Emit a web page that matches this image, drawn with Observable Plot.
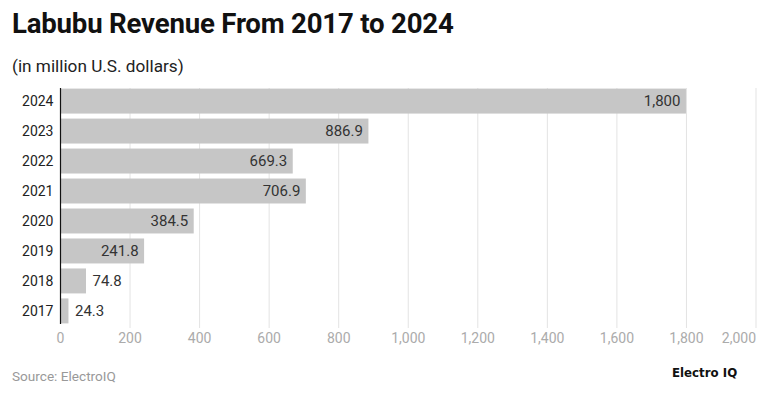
<!DOCTYPE html>
<html><head><meta charset="utf-8">
<script src="https://cdn.jsdelivr.net/npm/d3@7"></script>
<script src="https://cdn.jsdelivr.net/npm/@observablehq/plot@0.6"></script>
<style>
body{margin:0;background:#fff;font-family:Roboto,sans-serif;width:767px;height:398px;position:relative;overflow:hidden}
#title{position:absolute;left:12px;top:7px;font-size:27.6px;font-weight:700;color:#111;letter-spacing:-0.2px;white-space:nowrap}
#sub{position:absolute;left:12px;top:56px;font-size:17.2px;color:#222;white-space:nowrap}
#chart{position:absolute;left:0;top:80px}
#src{position:absolute;left:12px;top:368px;font-size:13.6px;color:#999;white-space:nowrap}
#logo{position:absolute;left:672px;top:366px;font-family:"DejaVu Sans",sans-serif;font-size:11.8px;font-weight:700;color:#111;white-space:nowrap}
</style></head><body>
<div id="title">Labubu Revenue From 2017 to 2024</div>
<div id="sub">(in million U.S. dollars)</div>
<div id="chart"></div>
<div id="src">Source: ElectroIQ</div>
<div id="logo">Electro IQ</div>
<script>
const years = ["2024","2023","2022","2021","2020","2019","2018","2017"];
const revenue = [1800, 886.9, 669.3, 706.9, 384.5, 241.8, 74.8, 24.3];
const xTicks = [0,200,400,600,800,1000,1200,1400,1600,1800,2000];
const data = years.map((y,i)=>({year:y, value:revenue[i]}));
const fmt = v => Number.isInteger(v) ? d3.format(",")(v) : d3.format(",.1f")(v);
const inside = data.filter(d=>d.value>=150);
const outside = data.filter(d=>d.value<150);
const lastTick = xTicks[xTicks.length-1];
const chart = Plot.plot({
  width:767, height:270,
  marginTop:8, marginBottom:26, marginLeft:60, marginRight:11.5,
  style:{fontFamily:"Roboto, sans-serif", fontSize:"14px", background:"#fff"},
  x:{domain:[0,lastTick], label:null},
  y:{domain:years, paddingInner:0.167, paddingOuter:0.02, round:false, label:null},
  marks:[
    Plot.ruleX(xTicks.filter(t=>t>0), {stroke:"#e3e3e3", strokeWidth:1, insetBottom:-4}),
    Plot.axisX({ticks:xTicks.slice(0,-1), tickFormat:d3.format(","), tickSize:0, tickPadding:9, fill:"#ababab", fontSize:14, label:null}),
    Plot.axisX({ticks:[lastTick], tickFormat:d3.format(","), tickSize:0, tickPadding:9, textAnchor:"end", fill:"#ababab", fontSize:14, label:null}),
    Plot.axisY({tickSize:0, tickPadding:7, fill:"#222", fontSize:14, label:null}),
    Plot.barX(data, {x:"value", y:"year", fill:"#c6c6c6"}),
    Plot.ruleX([0], {stroke:"#111", strokeWidth:1.2}),
    Plot.text(inside, {x:"value", y:"year", text:d=>fmt(d.value), textAnchor:"end", dx:-6, fill:"#333", fontSize:15}),
    Plot.text(outside, {x:"value", y:"year", text:d=>fmt(d.value), textAnchor:"start", dx:6, fill:"#333", fontSize:15})
  ]
});
document.getElementById("chart").appendChild(chart);
</script>
</body></html>
